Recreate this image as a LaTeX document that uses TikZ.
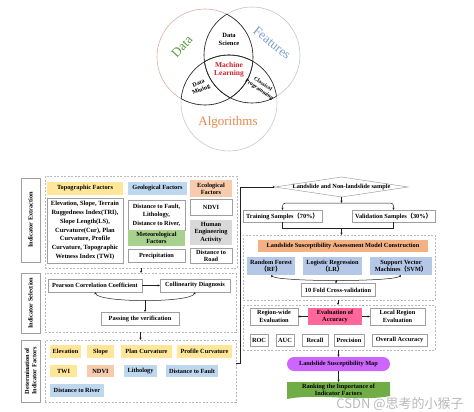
\documentclass[tikz,border=0pt]{standalone}
\usepackage{fontspec}
\setmainfont{Liberation Serif}
\newfontfamily\cjk{Noto Sans CJK SC}
\usetikzlibrary{arrows.meta,calc,backgrounds}
\definecolor{cYel}{HTML}{FFE699}
\definecolor{cBlue}{HTML}{BDD7EE}
\definecolor{cPeach}{HTML}{F8CBAD}
\definecolor{cGreen}{HTML}{A9D18E}
\definecolor{cGrey}{HTML}{D9D9D9}
\definecolor{cOrange}{HTML}{F4B183}
\definecolor{cMBlue}{HTML}{B4C7E7}
\definecolor{cPink}{HTML}{FF6699}
\definecolor{cPurple}{HTML}{CC66FF}
\definecolor{cRank}{HTML}{70AD47}
\definecolor{dataGreen}{HTML}{5A9A40}
\definecolor{featBlue}{HTML}{7B9BD0}
\definecolor{algOrange}{HTML}{E8874A}
\definecolor{mlRed}{HTML}{D0202A}
\definecolor{dataCirc}{HTML}{D8AEA6}
\definecolor{featCirc}{HTML}{BCC6D0}
\definecolor{algCirc}{HTML}{CFC6C4}
\newcommand{\myLP}{{\cjk （}}
\newcommand{\myRP}{{\cjk ）}}
\begin{document}
\begin{tikzpicture}[x=1pt,y=-1pt,
  base/.style={font=\bfseries\fontsize{6.3}{7.3}\selectfont, align=center, inner sep=0.5pt, outer sep=0pt},
  wbox/.style={base, draw=gray!75, fill=white, line width=0.5pt},
  cbox/.style={base, fill=#1},
  panel/.style={draw=gray!55, dashed, dash pattern=on 2pt off 1.5pt, line width=0.5pt, inner sep=0pt, outer sep=0pt},
  lbl/.style={draw=gray!75, line width=0.6pt, fill=white, rotate=90, font=\bfseries\fontsize{6.3}{7.3}\selectfont, align=center, inner sep=0pt},
  sz/.style 2 args={minimum width=#1pt, minimum height=#2pt},
  arr/.style={-{Stealth[length=2.4pt,width=2.2pt]}, line width=0.5pt, draw=gray!25!black},
  darr/.style={{Stealth[length=2.4pt,width=2.2pt]}-{Stealth[length=2.4pt,width=2.2pt]}, line width=0.5pt, draw=gray!25!black},
  ln/.style={line width=0.5pt, draw=gray!25!black},
  vlab/.style={font=\fontsize{13}{13}\selectfont, inner sep=0pt},
  vsmall/.style={font=\bfseries\fontsize{6}{6.8}\selectfont, align=center, inner sep=0pt},
  dark/.style={draw=black!85, line width=0.6pt}
]
\useasboundingbox (0,0) rectangle (474,412);

% ---------------- Venn diagram ----------------
\coordinate (cD) at (205,57);
\coordinate (cF) at (252,55);
\coordinate (cA) at (229,103);
\draw[dataCirc, line width=0.6pt] (cD) circle[radius=48pt];
\draw[featCirc, line width=0.6pt] (cF) circle[radius=48pt];
\draw[algCirc, line width=0.6pt] (cA) circle[radius=48pt];
\begin{scope}\clip (cF) circle[radius=48pt]; \draw[dark] (cD) circle[radius=48pt]; \draw[dark] (cA) circle[radius=48pt];\end{scope}
\begin{scope}\clip (cD) circle[radius=48pt]; \draw[dark] (cF) circle[radius=48pt]; \draw[dark] (cA) circle[radius=48pt];\end{scope}
\begin{scope}\clip (cA) circle[radius=48pt]; \draw[dark] (cD) circle[radius=48pt]; \draw[dark] (cF) circle[radius=48pt];\end{scope}

\node[vlab, text=dataGreen, rotate=48] (tData) at (182,47) {Data};
\node[vlab, text=featBlue, rotate=-39] (tFeat) at (272,43) {Features};
\node[vlab, text=algOrange] (tAlg) at (228,122) {Algorithms};
\node[vsmall, font=\bfseries\fontsize{6.5}{7.5}\selectfont] (tDS) at (229,39.5) {Data\\Science};
\node[vsmall, text=mlRed, font=\bfseries\fontsize{7.5}{8.5}\selectfont] (tML) at (229,69.5) {Machine\\Learning};
\node[vsmall, rotate=22] (tDM) at (200,87) {Data\\Mining};
\node[vsmall, rotate=-35, font=\bfseries\fontsize{5.5}{6.3}\selectfont] (tCP) at (261,87) {Classical\\Programming};

% ---------------- Left side ----------------
\node[lbl, sz={84}{19}] (labExt) at (30.5,220) {Indicator Extraction};
\node[lbl, sz={60}{19}] (labSel) at (30.5,303) {Indicator Selection};
\node[lbl, sz={62}{19}] (labDet) at (30.5,371) {Determination of\\Indicator Factors};

\node[panel, sz={192}{92}] (pExt) at (141,222) {};
\node[panel, sz={191}{59}] (pSel) at (140.5,302.5) {};
\node[panel, sz={191}{62}] (pDet) at (140.5,371) {};

% extraction
\node[cbox=cYel, sz={76}{13}] (topo) at (85,188.5) {Topographic Factors};
\node[cbox=cBlue, sz={59}{13}] (geo) at (157.5,188.5) {Geological Factors};
\node[cbox=cPeach, sz={42}{17}] (eco) at (211,188.5) {Ecological\\Factors};
\node[wbox, sz={76}{65}, font=\bfseries\fontsize{6.4}{8.8}\selectfont] (topoList) at (85,230.5) {Elevation, Slope, Terrain\\Ruggedness Index(TRI),\\Slope Length(LS),\\Curvature(Cur), Plan\\Curvature, Profile\\Curvature, Topographic\\Wetness Index (TWI)};
\node[wbox, sz={57}{30}, font=\bfseries\fontsize{6.3}{8.5}\selectfont] (geoList) at (156.5,215) {Distance to Fault,\\Lithology,\\Distance to River,};
\node[cbox=cGreen, sz={57}{16}] (met) at (156.5,238) {Meteorological\\Factors};
\node[wbox, sz={57}{13}] (precip) at (156.5,255.5) {Precipitation};
\node[wbox, sz={42}{16}] (ndvi) at (211,207) {NDVI};
\node[cbox=cGrey, sz={42}{25}] (human) at (211,232.5) {Human\\Engineering\\Activity};
\node[wbox, sz={42}{15}] (road) at (211,255.5) {Distance to\\Road};

% selection
\node[wbox, sz={94}{13}] (pearson) at (95,285.5) {Pearson Correlation Coefficient};
\node[wbox, sz={70}{13}] (colli) at (195,285.5) {Collinearity Diagnosis};
\node[wbox, sz={78}{13}] (passing) at (140,318.5) {Passing the verification};
\draw[arr] (pearson) -- (colli);
\draw[darr] (pearson.south) .. controls +(3,11) and +(-3,11) .. (colli.south);
\coordinate (smid) at ($(pearson.south)!0.5!(colli.south)+(0,8.25)$);
\draw[arr] (smid) -- (smid |- passing.north);

% determination
\node[cbox=cYel, sz={31}{13}] (dElev) at (65.5,351.5) {Elevation};
\node[cbox=cYel, sz={27}{13}] (dSlope) at (100.5,351.5) {Slope};
\node[cbox=cYel, sz={51}{13}] (dPlan) at (146.5,351.5) {Plan Curvature};
\node[cbox=cYel, sz={55}{13}] (dProf) at (204.5,351.5) {Profile Curvature};
\node[cbox=cYel, sz={27}{12}] (dTWI) at (63.5,371) {TWI};
\node[cbox=cPeach, sz={27}{12}] (dNDVI) at (100.5,371) {NDVI};
\node[cbox=cBlue, sz={33}{12}] (dLith) at (140.5,371) {Lithology};
\node[cbox=cBlue, sz={52}{12}] (dFault) at (192,371) {Distance to Fault};
\node[cbox=cBlue, sz={54}{13}] (dRiver) at (77,390.5) {Distance to River};

\draw[arr] (pExt.south) -- (pExt.south |- pSel.north);
\draw[arr] (pSel.south) -- (pSel.south |- pDet.north);

% ---------------- Right side ----------------
\node[base] (samp) at (341.5,187) {Landslide and Non-landslide sample};
\coordinate (sampW) at ([xshift=-66.5pt]samp.center);
\coordinate (sampE) at ([xshift=66.5pt]samp.center);
\coordinate (sampN) at ([yshift=10pt]samp.center);
\coordinate (sampS) at ([yshift=-10pt]samp.center);
\draw[line width=0.5pt, draw=gray!75] (sampW) -- (sampN) -- (sampE) -- (sampS) -- cycle;

\draw[arr] ([yshift=8pt]pDet.east) -- ++(4,0) |- (sampW);

\node[wbox, sz={79}{12}] (train) at (282.5,216) {Training Samples\myLP70\%\myRP};
\node[wbox, sz={83}{12}] (valid) at (393.5,216) {Validation Samples\myLP30\%\myRP};
\coordinate (split) at ($(sampS)+(0,6)$);
\draw[arr] (sampS) -- (split);
\draw[arr, rounded corners=3pt] (split) -| (train.north);
\draw[arr, rounded corners=3pt] (split) -| (valid.north);

\node[panel, sz={192}{65}] (pModel) at (339,267.5) {};
\coordinate (join) at ($(samp.center |- train.south)+(0,6)$);
\draw[ln] (train.south) -- ++(0,6) -| (valid.south);
\draw[arr] (join) -- (join |- pModel.north);

\node[cbox=cOrange, sz={170}{12}] (mc) at (343,246) {Landslide Susceptibility Assessment Model Construction};
\node[cbox=cMBlue, sz={48}{18}] (rf) at (271,266) {Random Forest\\\myLP RF\myRP};
\node[cbox=cMBlue, sz={59}{18}] (lr) at (332.5,266) {Logistic Regression\\\myLP LR\myRP};
\node[cbox=cMBlue, sz={62}{18}] (svm) at (401,266) {Support Vector\\Machines\myLP SVM\myRP};
\draw[darr] (rf.south) .. controls +(6,7) and +(-6,7) .. (svm.south);
\coordinate (mmid) at ($(rf.south)!0.5!(svm.south)+(0,5.25)$);
\node[wbox, sz={74}{13}] (cv) at (338,290) {10 Fold Cross-validation};
\draw[arr] (mmid) -- (mmid |- cv.north);

\node[panel, sz={192}{45}] (pEval) at (339,327.5) {};
\draw[arr] (cv.south |- pModel.south) -- (cv.south |- pEval.north);

\node[wbox, sz={48}{17}] (region) at (274,316.5) {Region-wide\\Evaluation};
\node[cbox=cPink, sz={54}{17}] (acc) at (335,316.5) {Evaluation of\\Accuracy};
\node[wbox, sz={55}{17}] (local) at (397.5,316.5) {Local Region\\Evaluation};
\draw[arr] (acc) -- (region);
\draw[arr] (acc) -- (local);

\node[wbox, sz={18}{12}] (roc) at (259,340) {ROC};
\node[wbox, sz={18}{12}] (auc) at (285,340) {AUC};
\node[wbox, sz={26}{12}] (recall) at (315,340) {Recall};
\node[wbox, sz={30}{12}] (prec) at (349,340) {Precision};
\node[wbox, sz={55}{12}] (overall) at (399.5,340) {Overall Accuracy};

\node[cbox=cPurple, sz={103}{14}, rounded corners=7pt] (map) at (338.5,364) {Landslide Susceptibility Map};
\draw[arr] (map.north |- pEval.south) -- (map.north);

\node[base, sz={103}{16}, font=\bfseries\fontsize{6.3}{7.4}\selectfont] (rank) at (338.5,390) {Ranking the Importance of\\Indicator Factors};
\begin{scope}[on background layer]
\fill[cRank] (rank.north west) -- (rank.north east) -- ([yshift=2pt]rank.south east)
  .. controls ([xshift=-30pt,yshift=-4pt]rank.south east) and ([xshift=30pt,yshift=5pt]rank.south west) .. ([yshift=-1pt]rank.south west) -- cycle;
\end{scope}
\draw[arr] (map.south) -- (rank.north);

\node[font=\cjk\fontsize{13}{13}\selectfont, text=gray!55, inner sep=0pt] (wm) at (400,404) {CSDN @思考的小猴子};
\end{tikzpicture}
\end{document}
